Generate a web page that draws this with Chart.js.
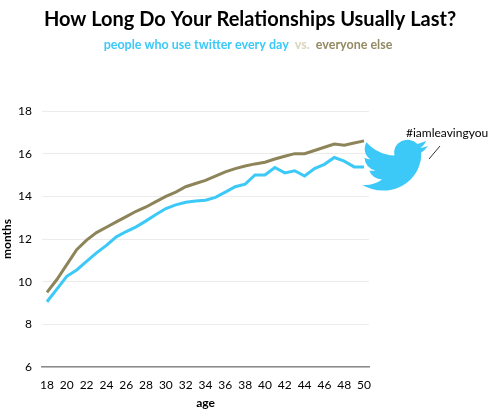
<!DOCTYPE html>
<html>
<head>
<meta charset="utf-8">
<script src="https://cdn.jsdelivr.net/npm/chart.js@4"></script>
<style>
  html, body { margin: 0; padding: 0; background: #fff; }
  #wrap { width: 495px; height: 414px; }
</style>
</head>
<body>
<div id="wrap"><canvas id="relChart" width="495" height="414"></canvas></div>
<script>
// ages 18..50, one point per year
const ages = [18,19,20,21,22,23,24,25,26,27,28,29,30,31,32,33,34,35,36,37,38,39,40,41,42,43,44,45,46,47,48,49,50]

// people who use twitter every day
const twitterDaily = [9.06,9.65,10.25,10.55,10.95,11.35,11.7,12.1,12.35,12.57,12.85,13.15,13.43,13.6,13.72,13.78,13.82,13.95,14.2,14.45,14.57,15.0,15.0,15.35,15.1,15.2,14.95,15.3,15.5,15.82,15.65,15.38,15.38]

// everyone else
const everyoneElse = [9.5,10.1,10.8,11.5,11.95,12.3,12.55,12.8,13.05,13.3,13.5,13.75,14.0,14.2,14.45,14.6,14.75,14.95,15.15,15.3,15.42,15.52,15.6,15.75,15.88,16.0,16.0,16.15,16.3,16.45,16.4,16.5,16.6]

const yTicks = [6,8,10,12,14,16,18]

const FONT = 'Lato, "Open Sans", sans-serif'
const BLUE = '#3cc9f7'
const OLIVE = '#8d8559'

// header + bird drawn on the canvas
const decor = {
  id: 'decor',
  afterDraw(chart) {
    const ctx = chart.ctx
    ctx.save()
    ctx.textBaseline = 'middle'

    // title
    ctx.fillStyle = '#000'
    ctx.font = 'bold 20px ' + FONT
    ctx.textAlign = 'center'
    ctx.fillText('How Long Do Your Relationships Usually Last?', 250, 20)

    // subtitle in three colours
    ctx.font = 'bold 12.5px ' + FONT
    ctx.textAlign = 'left'
    const parts = [
      ['people who use twitter every day', BLUE],
      ['  vs.  ', '#d9d4bf'],
      ['everyone else', '#938a63']
    ]
    let total = 0
    parts.forEach(p => total += ctx.measureText(p[0]).width)
    let x = 248 - total / 2
    parts.forEach(p => {
      ctx.fillStyle = p[1]
      ctx.fillText(p[0], x, 45)
      x += ctx.measureText(p[0]).width
    })

    // hashtag + pointer
    ctx.fillStyle = '#000'
    ctx.font = '12px ' + FONT
    ctx.fillText('#iamleavingyou', 406, 133)
    ctx.strokeStyle = '#333'
    ctx.lineWidth = 1
    ctx.beginPath()
    ctx.moveTo(440, 146)
    ctx.lineTo(429, 159)
    ctx.stroke()

    // bird
    const bird = new Path2D('M23.953 4.57a10 10 0 01-2.825.775 4.958 4.958 0 002.163-2.723c-.951.555-2.005.959-3.127 1.184a4.92 4.92 0 00-8.384 4.482C7.69 8.095 4.067 6.13 1.64 3.162a4.822 4.822 0 00-.666 2.475c0 1.71.87 3.213 2.188 4.096a4.904 4.904 0 01-2.228-.616v.06a4.923 4.923 0 003.946 4.827 4.996 4.996 0 01-2.212.085 4.936 4.936 0 004.604 3.417 9.867 9.867 0 01-6.102 2.105c-.39 0-.779-.023-1.17-.067a13.995 13.995 0 007.557 2.209c9.053 0 13.998-7.496 13.998-13.985 0-.21 0-.42-.015-.63A9.935 9.935 0 0024 4.59z')
    ctx.translate(362, 134)
    ctx.scale(2.75, 2.6)
    ctx.fillStyle = BLUE
    ctx.fill(bird)
    ctx.restore()
  }
}

const data = {
  labels: ages,
  datasets: [
    {
      label: 'everyone else',
      data: everyoneElse,
      borderColor: OLIVE,
      borderWidth: 3,
      pointRadius: 0,
      tension: 0,
      fill: false
    },
    {
      label: 'people who use twitter every day',
      data: twitterDaily,
      borderColor: BLUE,
      borderWidth: 3,
      pointRadius: 0,
      tension: 0,
      fill: false
    }
  ]
}

const config = {
  type: 'line',
  data: data,
  plugins: [decor],
  options: {
    responsive: false,
    animation: false,
    layout: { padding: { top: 111, right: 126, left: 0, bottom: 0 } },
    plugins: {
      legend: { display: false },
      tooltip: { enabled: false }
    },
    scales: {
      x: {
        offset: true,
        grid: { display: false, drawTicks: false },
        border: { color: '#8a8a8a', width: 1.5 },
        ticks: {
          color: '#000',
          font: { family: FONT, size: 12 },
          autoSkip: false,
          maxRotation: 0,
          padding: 11,
          callback: function (v, i) { return ages[i] % 2 == 0 ? ages[i] : '' }
        },
        title: { display: true, text: 'age', color: '#000', font: { family: FONT, size: 12, weight: 'bold' }, padding: { top: 4 } },
        afterFit: s => { s.height = 47 }
      },
      y: {
        min: 6,
        max: 18,
        afterBuildTicks: s => { s.ticks = yTicks.map(v => ({ value: v })) },
        grid: { color: '#ececec', drawTicks: false, lineWidth: 1 },
        border: { display: false },
        ticks: {
          color: '#000',
          font: { family: FONT, size: 12 },
          padding: 10
        },
        title: { display: true, text: 'months', color: '#000', font: { family: FONT, size: 12, weight: 'bold' }, padding: 0 },
        afterFit: s => { s.width = 42 }
      }
    }
  }
}

const chart = new Chart(document.getElementById('relChart'), config)
</script>
</body>
</html>
